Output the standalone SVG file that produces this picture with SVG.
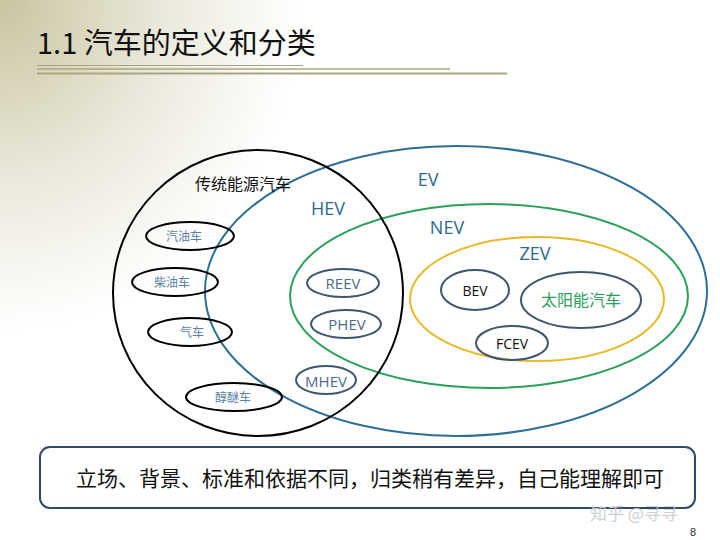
<svg xmlns="http://www.w3.org/2000/svg" width="720" height="540" viewBox="0 0 720 540">
<defs>
<radialGradient id="bg" cx="0" cy="0" r="1" gradientUnits="userSpaceOnUse" gradientTransform="translate(0,0) scale(300,330)">
<stop offset="0" stop-color="#c9c4a0"/><stop offset="0.55" stop-color="#ebe9dc"/><stop offset="1" stop-color="#ffffff"/>
</radialGradient>
<style>
.k{fill:none;stroke:#000;stroke-width:2}
.s{fill:none;stroke:#3f5670;stroke-width:2}
.cn{font-family:"Noto Sans CJK SC","Noto Sans",sans-serif}
.sm{font-size:12px;fill:#5b7fa6}
.ab{font-family:"Open Sans","Noto Sans",sans-serif;font-size:15px;fill:#4e6a8a}
.big{font-family:"Open Sans","Noto Sans",sans-serif;font-size:18px;fill:#2b6a90}
</style>
</defs>
<rect width="720" height="540" fill="#fff"/>
<rect width="720" height="540" fill="url(#bg)"/>
<text x="37" y="54" class="cn" font-size="29" fill="#111">1.1 汽车的定义和分类</text>
<g stroke="#a9a680">
<line x1="37" y1="65.5" x2="303" y2="65.5" stroke-width="1"/>
<line x1="37" y1="69" x2="450" y2="69" stroke-width="1.5"/>
<line x1="37" y1="73.5" x2="507" y2="73.5" stroke-width="2"/>
</g>
<g id="sets">
<ellipse cx="456" cy="291" rx="251" ry="145" fill="none" stroke="#2e6f94" stroke-width="2"/>
<ellipse cx="489" cy="296" rx="199" ry="92" fill="none" stroke="#2aa05a" stroke-width="2"/>
<ellipse cx="537" cy="299" rx="127" ry="62" fill="none" stroke="#e8b92a" stroke-width="2"/>
<ellipse cx="258" cy="293" rx="145" ry="143" class="k"/>
<text x="243" y="190" class="cn" font-size="16" text-anchor="middle" fill="#111">传统能源汽车</text>
<text x="428" y="186" class="big" text-anchor="middle">EV</text>
<text x="328" y="215" class="big" text-anchor="middle" fill="#4e6a8a">HEV</text>
<text x="447" y="234" class="big" text-anchor="middle" fill="#1f8a6a">NEV</text>
<text x="535" y="260" class="big" text-anchor="middle">ZEV</text>
</g>
<g id="n-qiyou"><ellipse cx="190" cy="236" rx="44" ry="14" class="k"/><text x="184" y="241" class="cn sm" text-anchor="middle">汽油车</text></g>
<g id="n-chaiyou"><ellipse cx="175" cy="282" rx="43" ry="14" class="k"/><text x="172" y="287" class="cn sm" text-anchor="middle">柴油车</text></g>
<g id="n-qi"><ellipse cx="190" cy="332" rx="42" ry="14" class="k"/><text x="192" y="337" class="cn sm" text-anchor="middle">气车</text></g>
<g id="n-chunmi"><ellipse cx="234" cy="397" rx="48" ry="14" class="k"/><text x="233" y="402" class="cn sm" text-anchor="middle">醇醚车</text></g>
<g id="n-reev"><ellipse cx="343" cy="283" rx="36" ry="14" class="s"/><text x="343" y="289" class="ab" text-anchor="middle">REEV</text></g>
<g id="n-phev"><ellipse cx="346" cy="324" rx="35" ry="14" class="s"/><text x="347" y="330" class="ab" text-anchor="middle">PHEV</text></g>
<g id="n-mhev"><ellipse cx="326" cy="380" rx="30" ry="14" class="s"/><text x="326" y="387" class="ab" text-anchor="middle">MHEV</text></g>
<g id="n-bev"><ellipse cx="475" cy="290" rx="34" ry="20" class="s"/><text x="475" y="296" font-family="Open Sans,sans-serif" font-size="14" fill="#111" text-anchor="middle">BEV</text></g>
<g id="n-solar"><ellipse cx="581" cy="300" rx="60" ry="28" class="s"/><text x="581" y="306" class="cn" font-size="16" fill="#2aa05a" text-anchor="middle">太阳能汽车</text></g>
<g id="n-fcev"><ellipse cx="512" cy="343" rx="36" ry="17" class="s"/><text x="512" y="349" font-family="Open Sans,sans-serif" font-size="14" fill="#111" text-anchor="middle">FCEV</text></g>
<g id="connectors"></g>
<g id="note"><rect x="40" y="447" width="655" height="61" rx="10" fill="#fff" stroke="#2f4a6a" stroke-width="2"/>
<text x="370" y="486" class="cn" font-size="21" fill="#111" text-anchor="middle">立场、背景、标准和依据不同，归类稍有差异，自己能理解即可</text></g>
<text x="590" y="520" class="cn" font-size="17" fill="#ccc" opacity="0.9">知乎 @寻寻</text>
<text x="690" y="536" font-family="Liberation Sans,sans-serif" font-size="11" fill="#333">8</text>
</svg>
